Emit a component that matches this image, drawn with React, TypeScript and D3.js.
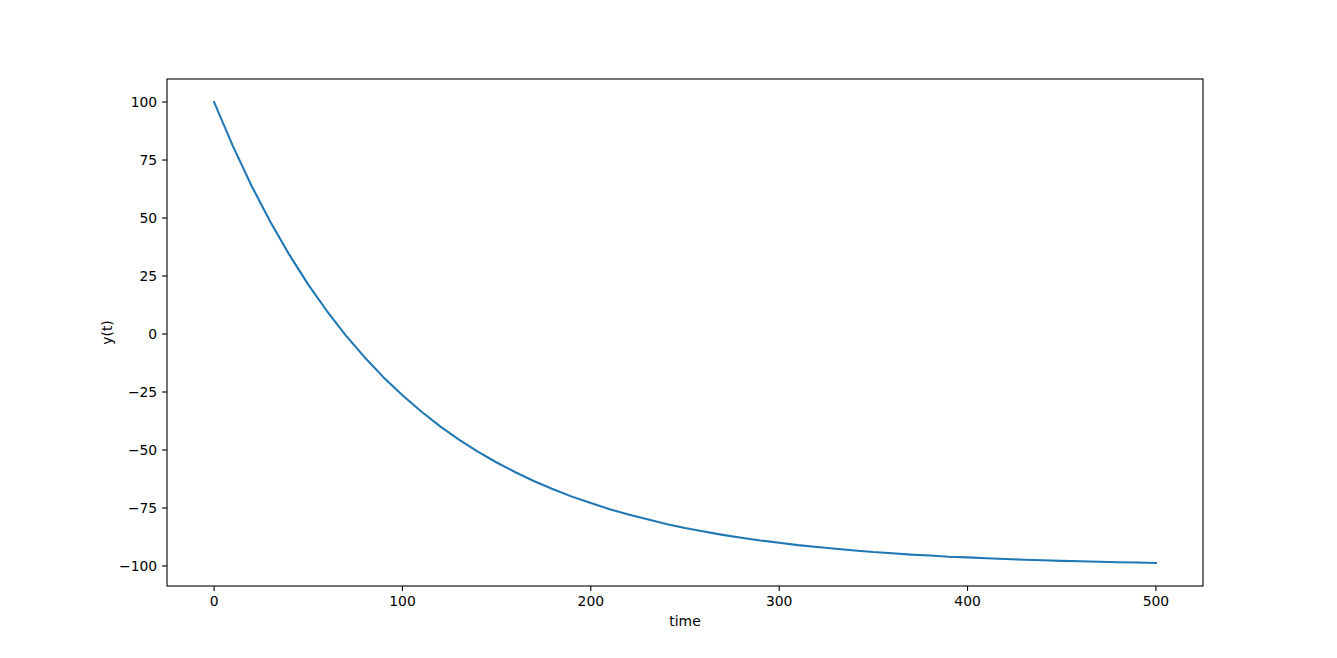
import * as d3 from "d3"

// time samples and y(t) values
const times = [
  0, 10, 20, 30, 40, 50, 60, 70, 80, 90, 100, 110, 120, 130, 140, 150, 160, 170, 180, 190,
  200, 210, 220, 230, 240, 250, 260, 270, 280, 290, 300, 310, 320, 330, 340, 350, 360, 370,
  380, 390, 400, 410, 420, 430, 440, 450, 460, 470, 480, 490, 500,
]
const yValues = [
  100, 81.0, 63.7, 48.2, 34.1, 21.3, 9.8, -0.7, -10.1, -18.7, -26.4, -33.4, -39.8, -45.5,
  -50.7, -55.4, -59.6, -63.5, -66.9, -70.1, -72.9, -75.5, -77.8, -79.9, -81.9, -83.6, -85.1,
  -86.6, -87.8, -89.0, -90.0, -91.0, -91.8, -92.6, -93.3, -94.0, -94.5, -95.1, -95.5, -96.0,
  -96.3, -96.7, -97.0, -97.3, -97.5, -97.8, -98.0, -98.2, -98.4, -98.5, -98.7,
]
const xTicks = [0, 100, 200, 300, 400, 500]
const yTicks = [-100, -75, -50, -25, 0, 25, 50, 75, 100]

const W = 1337
const H = 658
const margin = { top: 79, right: 134, bottom: 72, left: 167 }
const font = "'DejaVu Sans', sans-serif"

export default function App() {
  const innerW = W - margin.left - margin.right
  const innerH = H - margin.top - margin.bottom

  const xMin = d3.min(times)!, xMax = d3.max(times)!
  const yMin = d3.min(yValues)!, yMax = d3.max(yValues)!
  const xPad = (xMax - xMin) * 0.05
  const yPad = (yMax - yMin) * 0.05

  const x = d3.scaleLinear().domain([xMin - xPad, xMax + xPad]).range([0, innerW])
  const y = d3.scaleLinear().domain([yMin - yPad, yMax + yPad]).range([innerH, 0])

  const pts = times.map((t, i) => [t, yValues[i]] as [number, number])
  const line = d3.line<[number, number]>().x(d => x(d[0])).y(d => y(d[1]))

  const fmt = (v: number) => (v < 0 ? "\u2212" + Math.abs(v) : String(v))

  return (
    <div style={{ position: "fixed", left: 0, top: 0 }}>
      <svg width={W} height={H} style={{ display: "block", background: "white" }}>
        <g transform={`translate(${margin.left},${margin.top})`} fontFamily={font} fontSize={13.9}>
          <path d={line(pts) ?? ""} fill="none" stroke="#1f77b4" strokeWidth={2.08} strokeLinejoin="round" strokeLinecap="square" />
          <rect x={0} y={0} width={innerW} height={innerH} fill="none" stroke="black" strokeWidth={1.1} />
          {xTicks.map(t => (
            <g key={t} transform={`translate(${x(t)},${innerH})`}>
              <line y2={4.9} stroke="black" strokeWidth={1.1} />
              <text y={9.8} dy="0.76em" textAnchor="middle">{fmt(t)}</text>
            </g>
          ))}
          {yTicks.map(t => (
            <g key={t} transform={`translate(0,${y(t)})`}>
              <line x2={-4.9} stroke="black" strokeWidth={1.1} />
              <text x={-9.8} dy="0.36em" textAnchor="end">{fmt(t)}</text>
            </g>
          ))}
          <text x={innerW / 2} y={innerH + 35} textAnchor="middle" dy="0.36em">time</text>
          <text transform={`translate(${-60},${innerH / 2}) rotate(-90)`} textAnchor="middle" dy="0.36em">y(t)</text>
        </g>
      </svg>
    </div>
  )
}
